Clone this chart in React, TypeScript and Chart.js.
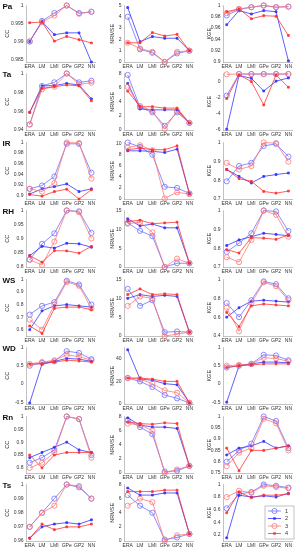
import React, { useEffect, useRef } from 'react';
import { Chart, registerables } from 'chart.js';
Chart.register(...registerables);

const categories = ['ERA', 'LM', 'LMI', 'GPe', 'GP2', 'NN'];
const seriesNames = ['1', '2', '3', '4'];
const rowNames = ['Pa', 'Ta', 'IR', 'RH', 'WS', 'WD', 'Rn', 'Ts'];
const metricNames = ['CC', 'NRMSE', 'KGE'];

// each panel: [series1, series2, series3, series4]
const Pa_CC = [[0.990, 0.9957, 0.9979, 1.0, 0.9979, 0.9982], [0.990, 0.9955, 0.9919, 0.9924, 0.9924, 0.9843], [0.990, 0.9954, 0.9972, 1.0, 0.9977, 0.9983], [0.9952, 0.9954, 0.9901, 0.9914, 0.9905, 0.9896]];
const Pa_NRMSE = [[4.0, 1.12, 0.82, 0.0, 0.76, 1.0], [4.82, 1.8, 2.25, 2.1, 2.1, 1.0], [1.7, 1.2, 0.9, 0.0, 0.9, 1.0], [1.7, 1.7, 2.6, 2.3, 2.45, 1.0]];
const Pa_KGE = [[0.9824, 0.993, 0.997, 1.0, 0.997, 0.998], [0.966, 0.991, 0.985, 0.991, 0.989, 0.902], [0.9865, 0.994, 0.997, 1.0, 0.997, 0.998], [0.989, 0.994, 0.9765, 0.982, 0.981, 0.947]];
const Ta_CC = [[0.9459, 0.9867, 0.9906, 1.0, 0.9906, 0.9923], [0.9588, 0.9869, 0.9871, 0.9895, 0.9878, 0.9731], [0.9459, 0.9832, 0.986, 1.0, 0.9885, 0.9902], [0.9588, 0.9843, 0.986, 0.9878, 0.987, 0.971]];
const Ta_NRMSE = [[7.8, 3.2, 2.5, 0.6, 2.5, 1.0], [6.6, 3.0, 2.85, 2.85, 2.85, 1.0], [6.1, 3.4, 2.7, 0.15, 2.7, 1.0], [5.5, 3.3, 3.3, 3.1, 3.1, 1.0]];
const Ta_KGE = [[-1.75, 0.93, 0.93, 0.93, 0.93, 0.93], [-5.9, 0.75, 0.4, -1.17, 0.05, 0.45], [0.9, 0.94, 0.94, 0.94, 0.94, 0.94], [-2.1, 0.82, 0.0, -2.9, 0.82, -0.7]];
const IR_CC = [[0.9127, 0.919, 0.936, 0.9975, 0.9975, 0.943], [0.903, 0.9127, 0.917, 0.922, 0.9076, 0.9127], [0.9127, 0.9076, 0.9236, 1.0, 0.999, 0.932], [0.902, 0.899, 0.9076, 0.912, 0.8936, 0.911]];
const IR_NRMSE = [[10.2, 9.4, 8.0, 2.2, 2.0, 1.0], [8.7, 8.7, 8.6, 8.4, 9.0, 1.0], [9.3, 9.7, 8.8, 0.1, 1.2, 0.9], [8.9, 9.2, 8.9, 8.9, 9.6, 0.9]];
const IR_KGE = [[0.794, 0.875, 0.892, 0.982, 0.993, 0.925], [0.857, 0.82, 0.785, 0.82, 0.83, 0.838], [0.892, 0.857, 0.875, 1.0, 0.996, 0.898], [0.857, 0.808, 0.794, 0.74, 0.731, 0.742]];
const RH_CC = [[0.826, 0.882, 0.919, 1.0, 0.997, 0.921], [0.84, 0.873, 0.867, 0.884, 0.882, 0.87], [0.826, 0.807, 0.89, 1.0, 0.994, 0.901], [0.84, 0.817, 0.858, 0.857, 0.849, 0.873]];
const RH_NRMSE = [[11.7, 9.6, 8.2, 0.0, 1.0, 1.0], [12.8, 10.9, 11.4, 10.4, 10.4, 1.0], [11.5, 11.9, 9.2, 0.0, 2.2, 1.0], [12.1, 12.4, 11.5, 11.7, 11.9, 1.0]];
const RH_KGE = [[0.78, 0.827, 0.879, 1.0, 0.995, 0.891], [0.814, 0.844, 0.861, 0.879, 0.873, 0.866], [0.752, 0.726, 0.844, 1.0, 0.977, 0.861], [0.792, 0.774, 0.856, 0.853, 0.847, 0.87]];
const WS_CC = [[0.72, 0.79, 0.82, 0.99, 0.96, 0.8], [0.6, 0.75, 0.79, 0.8, 0.79, 0.78], [0.68, 0.6, 0.8, 0.98, 0.95, 0.77], [0.63, 0.57, 0.77, 0.78, 0.78, 0.76]];
const WS_NRMSE = [[12.5, 8.0, 9.5, 1.0, 1.2, 1.0], [10.0, 11.0, 10.5, 10.8, 10.5, 1.0], [8.0, 10.5, 10.0, 0.0, 0.5, 1.0], [11.0, 12.5, 11.0, 11.2, 11.0, 1.0]];
const WS_KGE = [[0.75, 0.6, 0.78, 0.98, 0.95, 0.8], [0.6, 0.7, 0.77, 0.78, 0.77, 0.76], [0.7, 0.45, 0.75, 0.97, 0.93, 0.78], [0.65, 0.5, 0.72, 0.74, 0.73, 0.72]];
const WD_CC = [[0.5, 0.58, 0.62, 0.9, 0.85, 0.68], [-0.52, 0.55, 0.62, 0.7, 0.68, 0.62], [0.55, 0.6, 0.65, 0.8, 0.75, 0.65], [0.55, 0.55, 0.6, 0.65, 0.63, 0.6]];
const WD_NRMSE = [[23, 20, 15, 8, 5, 1], [48, 22, 21, 18, 17, 1], [23, 22, 18, 12, 10, 1], [23, 23, 22, 20, 20, 1]];
const WD_KGE = [[0.45, 0.5, 0.55, 0.8, 0.78, 0.65], [-0.5, 0.5, 0.55, 0.6, 0.6, 0.58], [0.5, 0.52, 0.55, 0.72, 0.7, 0.62], [0.45, 0.5, 0.52, 0.55, 0.55, 0.55]];
const Rn_CC = [[0.82, 0.84, 0.87, 1.0, 0.99, 0.85], [0.84, 0.86, 0.88, 0.9, 0.87, 0.86], [0.8, 0.82, 0.86, 1.0, 0.99, 0.84], [0.85, 0.8, 0.85, 0.86, 0.86, 0.86]];
const Rn_NRMSE = [[7.5, 6.5, 5.5, 0.2, 0.3, 1.0], [7.8, 6.8, 6.5, 6.5, 6.3, 1.0], [7.0, 6.8, 6.0, 0.0, 0.5, 1.0], [7.2, 7.0, 6.9, 7.1, 7.0, 1.0]];
const Rn_KGE = [[0.8, 0.85, 0.88, 1.0, 0.98, 0.86], [0.83, 0.86, 0.87, 0.89, 0.86, 0.87], [0.78, 0.84, 0.86, 0.99, 0.97, 0.85], [0.86, 0.76, 0.85, 0.85, 0.86, 0.87]];
const Ts_CC = [[0.97, 0.98, 0.99, 1.0, 0.998, 0.99], [0.962, 0.97, 0.972, 0.973, 0.972, 0.975], [0.97, 0.98, 0.985, 1.0, 0.999, 0.99], [0.962, 0.972, 0.968, 0.97, 0.97, 0.972]];
const Ts_NRMSE = [[6.5, 5.0, 4.0, 0.2, 0.5, 1.0], [7.5, 6.5, 6.5, 6.8, 6.8, 1.0], [5.0, 6.0, 5.5, 0.0, 0.8, 1.0], [7.0, 7.0, 7.0, 7.2, 7.2, 1.0]];
const Ts_KGE = [[0.62, 0.85, 0.88, 1.0, 0.98, 0.95], [0.15, 0.83, 0.8, 0.82, 0.8, 0.86], [0.8, 0.9, 0.87, 0.98, 0.96, 0.94], [0.55, 0.88, 0.79, 0.83, 0.83, 0.85]];

// axis ranges and tick labels
const Pa_limits = [[0.9843, 1], [0, 5], [0.9, 1]];
const Pa_ticks = [[0.985, 0.99, 0.995, 1], [0, 1, 2, 3, 4, 5], [0.9, 0.92, 0.94, 0.96, 0.98, 1]];
const Ta_limits = [[0.94, 1], [0, 8], [-6, 1]];
const Ta_ticks = [[0.94, 0.96, 0.98, 1], [0, 2, 4, 6, 8], [-6, -4, -2, 0]];
const IR_limits = [[0.8936, 1], [0, 10.2], [0.7, 1]];
const IR_ticks = [[0.9, 0.92, 0.94, 0.96, 0.98, 1], [0, 2, 4, 6, 8, 10], [0.7, 0.8, 0.9, 1]];
const RH_limits = [[0.8, 1], [0, 15], [0.7, 1]];
const RH_ticks = [[0.8, 0.85, 0.9, 0.95, 1], [0, 5, 10, 15], [0.7, 0.8, 0.9, 1]];
const WS_limits = [[0.55, 1], [0, 15], [0.4, 1]];
const WS_ticks = [[0.6, 0.7, 0.8, 0.9, 1], [0, 5, 10, 15], [0.4, 0.6, 0.8, 1]];
const WD_limits = [[-0.55, 1], [0, 50], [-0.55, 1]];
const WD_ticks = [[-0.5, 0, 0.5, 1], [0, 20, 40], [-0.5, 0, 0.5, 1]];
const Rn_limits = [[0.78, 1], [0, 8], [0.75, 1]];
const Rn_ticks = [[0.8, 0.85, 0.9, 0.95, 1], [0, 2, 4, 6, 8], [0.75, 0.8, 0.85, 0.9, 0.95, 1]];
const Ts_limits = [[0.96, 1], [0, 8], [0.1, 1]];
const Ts_ticks = [[0.96, 0.97, 0.98, 0.99, 1], [0, 2, 4, 6, 8], [0.2, 0.4, 0.6, 0.8, 1]];

const panelData = [
  [Pa_CC, Pa_NRMSE, Pa_KGE],
  [Ta_CC, Ta_NRMSE, Ta_KGE],
  [IR_CC, IR_NRMSE, IR_KGE],
  [RH_CC, RH_NRMSE, RH_KGE],
  [WS_CC, WS_NRMSE, WS_KGE],
  [WD_CC, WD_NRMSE, WD_KGE],
  [Rn_CC, Rn_NRMSE, Rn_KGE],
  [Ts_CC, Ts_NRMSE, Ts_KGE],
];
const panelLimits = [Pa_limits, Ta_limits, IR_limits, RH_limits, WS_limits, WD_limits, Rn_limits, Ts_limits];
const panelTicks = [Pa_ticks, Ta_ticks, IR_ticks, RH_ticks, WS_ticks, WD_ticks, Rn_ticks, Ts_ticks];

const FONT = '"Liberation Sans", Arial, sans-serif';
const seriesStyle = [
  { color: 'rgba(105,105,255,0.85)', style: 'circle', radius: 2.6, fill: false },
  { color: 'rgba(45,45,255,0.85)', style: 'rect', radius: 1.3, fill: true },
  { color: 'rgba(255,115,115,0.85)', style: 'circle', radius: 2.6, fill: false },
  { color: 'rgba(255,45,45,0.85)', style: 'rect', radius: 1.3, fill: true },
];

const ROW_TOPS = [5, 73, 142, 210, 279, 347, 416, 484];
const COL_LEFTS = [26, 124, 223];
const Y_W = [26, 25, 25];
const TITLE_GAP = [19, 12, 14];
const PLOT_W = 70;
const PLOT_H = 57;
const PAD_TOP = 5;
const PAD_RIGHT = 4;
const X_H = 9;
const TICK_SIZE = 5;

function fmt(v: number) {
  return String(Number(v.toFixed(4)));
}

function Panel({ r, c }: { r: number; c: number }) {
  const ref = useRef<HTMLCanvasElement>(null);
  useEffect(() => {
    const values = panelData[r][c];
    const [ymin, ymax] = panelLimits[r][c];
    const yt = panelTicks[r][c];
    const isLegend = r === 7 && c === 2;
    const overlay = {
      id: 'overlay',
      afterDraw(chart: any) {
        const ctx = chart.ctx;
        const { left, top, bottom } = chart.chartArea;
        ctx.save();
        ctx.fillStyle = '#333';
        ctx.font = `5.5px ${FONT}`;
        ctx.translate(left - TITLE_GAP[c], (top + bottom) / 2);
        ctx.rotate(-Math.PI / 2);
        ctx.textAlign = 'center';
        ctx.textBaseline = 'middle';
        ctx.fillText(metricNames[c], 0, 0);
        ctx.restore();
        if (c === 0) {
          ctx.save();
          ctx.fillStyle = '#111';
          ctx.font = `bold 8px ${FONT}`;
          ctx.textAlign = 'left';
          ctx.textBaseline = 'middle';
          ctx.fillText(rowNames[r], 2.5, top + 1.5);
          ctx.restore();
        }
        if (isLegend) {
          const bx = 265 - 198, by = 506 - 479, bw = 29, bh = 33;
          ctx.save();
          ctx.fillStyle = '#fff';
          ctx.strokeStyle = '#999';
          ctx.lineWidth = 0.6;
          ctx.fillRect(bx, by, bw, bh);
          ctx.strokeRect(bx, by, bw, bh);
          seriesNames.forEach((name, i) => {
            const s = seriesStyle[i];
            const y = by + 5 + i * 7.5;
            ctx.strokeStyle = s.color;
            ctx.fillStyle = s.color;
            ctx.lineWidth = 0.9;
            ctx.beginPath();
            ctx.moveTo(bx + 3, y);
            ctx.lineTo(bx + 16, y);
            ctx.stroke();
            if (s.style === 'circle') {
              ctx.beginPath();
              ctx.arc(bx + 9.5, y, s.radius, 0, Math.PI * 2);
              ctx.stroke();
            } else {
              ctx.fillRect(bx + 9.5 - s.radius, y - s.radius, s.radius * 2, s.radius * 2);
            }
            ctx.fillStyle = '#333';
            ctx.font = `5.5px ${FONT}`;
            ctx.textAlign = 'left';
            ctx.textBaseline = 'middle';
            ctx.fillText(name, bx + 20, y);
          });
          ctx.restore();
        }
      },
    };
    const datasets = values.map((vals, i) => {
      const s = seriesStyle[i];
      return {
        label: seriesNames[i],
        data: vals.map((v, k) => ({ x: k + 1, y: v })),
        borderColor: s.color,
        backgroundColor: s.fill ? s.color : 'rgba(0,0,0,0)',
        borderWidth: 0.9,
        pointStyle: s.style,
        pointRadius: s.radius,
        pointBorderWidth: 0.9,
        pointBorderColor: s.color,
        pointBackgroundColor: s.fill ? s.color : 'rgba(0,0,0,0)',
        tension: 0,
        clip: false,
        order: 4 - i,
      };
    });
    const chart = new Chart(ref.current!, {
      type: 'line',
      data: { datasets },
      plugins: [overlay],
      options: {
        animation: false,
        responsive: false,
        maintainAspectRatio: false,
        events: [],
        layout: { padding: { top: PAD_TOP, right: PAD_RIGHT, left: 0, bottom: 0 } },
        plugins: { legend: { display: false }, tooltip: { enabled: false } },
        scales: {
          x: {
            type: 'linear',
            min: 0.7,
            max: 6.3,
            afterBuildTicks: (scale: any) => {
              scale.ticks = categories.map((_, k) => ({ value: k + 1 }));
            },
            afterFit: (scale: any) => {
              scale.height = X_H;
            },
            ticks: {
              callback: (v: any) => categories[Math.round(v) - 1] ?? '',
              font: { size: TICK_SIZE, family: FONT },
              color: '#333',
              padding: 1.5,
              maxRotation: 0,
              autoSkip: false,
            },
            grid: { display: false, drawTicks: false },
            border: { display: true, color: '#999', width: 0.6 },
          },
          y: {
            type: 'linear',
            min: ymin,
            max: ymax,
            afterBuildTicks: (scale: any) => {
              scale.ticks = yt.map((v) => ({ value: v }));
            },
            afterFit: (scale: any) => {
              scale.width = Y_W[c];
            },
            ticks: {
              callback: (v: any) => fmt(Number(v)),
              font: { size: TICK_SIZE, family: FONT },
              color: '#333',
              padding: 2.5,
              autoSkip: false,
            },
            grid: { display: false, drawTicks: false },
            border: { display: true, color: '#999', width: 0.6 },
          },
        },
      },
    } as any);
    return () => chart.destroy();
  }, [r, c]);
  const width = Y_W[c] + PLOT_W + PAD_RIGHT;
  const height = PAD_TOP + PLOT_H + X_H;
  return (
    <canvas
      ref={ref}
      width={width}
      height={height}
      style={{
        position: 'absolute',
        left: COL_LEFTS[c] - Y_W[c],
        top: ROW_TOPS[r] - PAD_TOP,
        width,
        height,
      }}
    />
  );
}

export default function App() {
  const cells: React.ReactElement[] = [];
  for (let r = 0; r < rowNames.length; r++) {
    for (let c = 0; c < metricNames.length; c++) {
      cells.push(<Panel key={`${r}-${c}`} r={r} c={c} />);
    }
  }
  return (
    <div style={{ position: 'absolute', left: 0, top: 0, width: 298, height: 550, background: '#fff', overflow: 'hidden' }}>
      {cells}
    </div>
  );
}
